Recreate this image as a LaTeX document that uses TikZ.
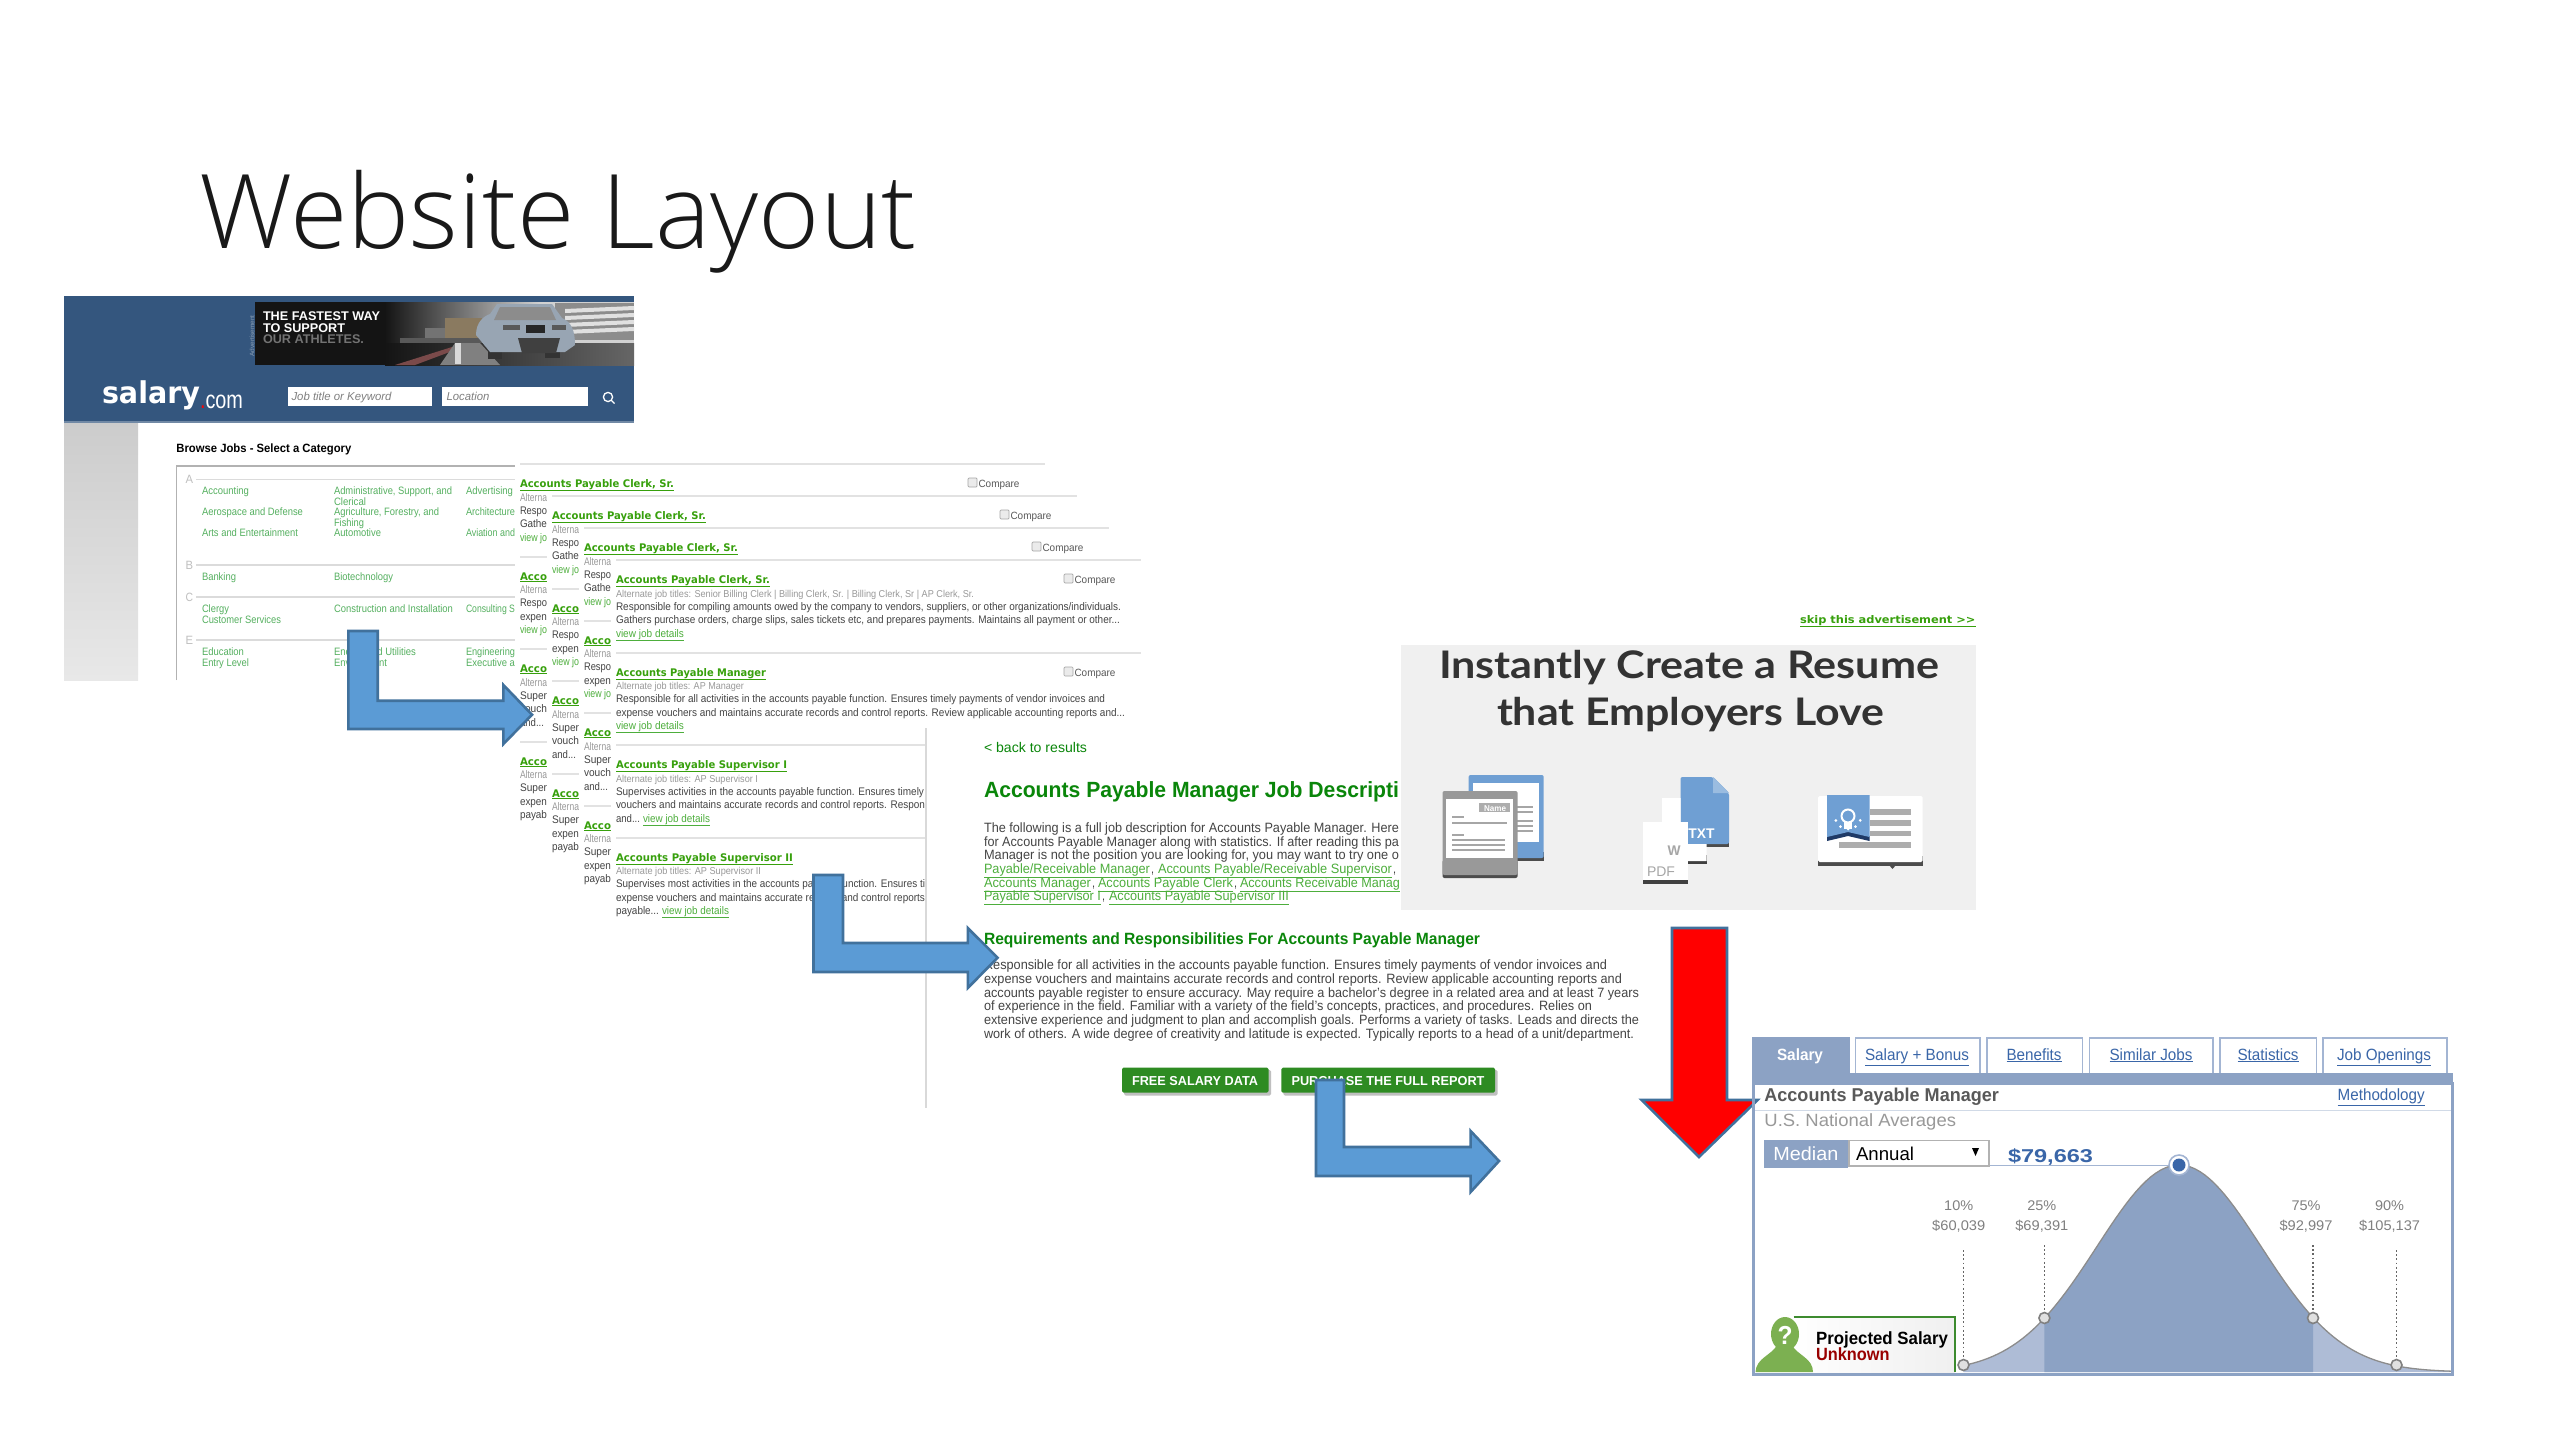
\documentclass[tikz,border=0pt]{standalone}
\usepackage{fontspec}
\usepackage{graphicx}
\setmainfont{Liberation Sans}
\newfontfamily\vfont{DejaVu Sans}
\newfontfamily\lfont{Lato}
\newfontfamily\ofont{Open Sans Light}
\definecolor{hdr}{HTML}{34567E}
\definecolor{catg}{HTML}{55B060}
\definecolor{ttlg}{HTML}{37A00C}
\definecolor{lnkg}{HTML}{4DAE3C}
\definecolor{dkg}{HTML}{0A860A}
\definecolor{txt}{HTML}{444444}
\definecolor{alt}{HTML}{999999}
\definecolor{rl}{HTML}{E2E2E2}
\definecolor{arrF}{HTML}{5B9BD5}
\definecolor{arrS}{HTML}{41719C}
\definecolor{wid}{HTML}{8CA2C4}
\definecolor{widL}{HTML}{AEBCD6}
\definecolor{tabb}{HTML}{A3B5D3}
\definecolor{lnkb}{HTML}{3A66A8}
\definecolor{adblue}{HTML}{6F9FD3}
\definecolor{btn}{HTML}{2E8B22}
\definecolor{pers}{HTML}{7CB051}
\definecolor{pbord}{HTML}{3D8B2F}
\definecolor{bldg}{HTML}{8A7A60}
\definecolor{curb}{HTML}{7A4A4A}
\definecolor{carb}{HTML}{98A5B3}
\definecolor{navy}{HTML}{1F3A66}
\newcounter{tnum}
% [options]{x}{y}{font size}{width}{colour}{text}
\newcommand\tw[7][]{\stepcounter{tnum}\node[lbl,#1,text=#6] (t\arabic{tnum}) at (#2,#3) {\resizebox{#5pt}{\height}{\fontsize{#4}{#4}\selectfont #7}};}
\newcommand\ulk[1]{\underline{#1}}
\newcommand\rct[5]{\fill[#5] (#1,#2) rectangle (#3,#4);}
\tikzset{
 lbl/.style={anchor=base west,inner sep=0pt,outer sep=0pt},
 rulel/.style={draw=rl,line width=1.5pt},
 blockarrow/.style={fill=arrF,draw=arrS,line width=2.6pt,miter limit=10},
 redarrow/.style={fill=red,draw=arrS,line width=2.6pt,miter limit=10},
 dotl/.style={draw=black!60,line width=1.4pt,dash pattern=on 1.8pt off 2.4pt},
 ring/.style={draw=black!50,fill=black!12,line width=1.6pt},
 chk/.style={draw=black!35,fill=black!8,line width=.7pt,rounded corners=1pt},
}
\begin{document}
\begin{tikzpicture}[x=1pt,y=-1pt]
\useasboundingbox (0,0) rectangle (2560,1440);
\fill[white] (0,0) rectangle (2560,1440);
% title
\tw{199}{248}{103}{718}{black!90}{\ofont Website Layout}
% ---- category screenshot
\shade[top color=black!20,bottom color=black!9] (64,422) rectangle (138,680);
\rct{64}{296}{634}{422}{hdr}
\rct{64}{421}{634}{423}{hdr!70}
% banner photo
\rct{255}{302}{634}{365}{black!92}
\shade[left color=black!92,right color=black!18] (385,302) rectangle (540,343);
\rct{540}{302}{634}{343}{black!18}
\shade[left color=black!92,right color=black!60] (385,343) rectangle (634,365);
\fill[black!55] (425,328) rectangle (445,338);
\fill[bldg] (445,318) rectangle (482,340);
\fill[black!65] (400,338) rectangle (482,343);
\fill[curb] (395,365) -- (452,347) -- (455,350) -- (415,365) -- cycle;
\fill[black!50] (455,343) -- (480,343) -- (500,365) -- (440,365) -- cycle;
\fill[white!85!black] (455,343) rectangle (461,364);
\fill[black!45] (555,303) rectangle (634,340);
\foreach \ly in {309,316,323,330}{\fill[black!12] (565,\ly) -- (634,\ly-3) -- (634,\ly+1) -- (565,\ly+4) -- cycle;}
\fill[black!80] (488,345) rectangle (502,359);
\fill[black!80] (545,348) rectangle (560,358);
\fill[carb] (476,335) .. controls (476,322) and (484,316) .. (490,314) -- (497,304) -- (552,304) -- (562,318) .. controls (572,322) and (575,332) .. (575,345) -- (565,352) -- (490,352) -- cycle;
\fill[black!45] (500,307) -- (550,307) -- (556,320) -- (494,320) -- cycle;
\fill[black!85] (526,325) rectangle (545,333);
\fill[black!75] (518,338) -- (560,338) -- (556,353) -- (522,353) -- cycle;
\fill[black!65] (503,325) rectangle (520,330);
\fill[black!65] (552,325) rectangle (566,330);
\node[lbl,anchor=center,rotate=90,text=hdr!60!white,font=\fontsize{6.5}{6.5}\selectfont] (advert) at (252,336) {Advertisement};
\tw{263}{320}{12.6}{117}{white}{\bfseries THE FASTEST WAY}
\tw{263}{332}{12.6}{82}{white}{\bfseries TO SUPPORT}
\tw{263}{343}{12.6}{101}{black!55}{\bfseries OUR ATHLETES.}
\tw{102}{403}{30}{98}{white}{\vfont\bfseries salary}
\tw{200}{408}{25}{43}{white}{\textcolor{red}{.}com}
\rct{287.5}{387}{432}{406}{white}
\rct{442}{387}{588}{406}{white}
\tw{291.5}{400}{11.5}{100}{black!50}{\itshape Job title or Keyword}
\tw{446.5}{400}{11.5}{43}{black!50}{\itshape Location}
\draw[white,line width=1.3pt] (608,397) circle (4.6) (611.5,400.5) -- (614.5,403.5);
\tw{176.4}{452.7}{12}{175}{black}{\bfseries Browse Jobs - Select a Category}
\draw[black!30,line width=1.5pt] (176.5,680) -- (176.5,466) -- (515,466);
\foreach \cl/\ly/\by in {A/479.5/483,B/565/569,C/597/601,E/640/644}{
  \draw[black!14,line width=1.2pt] (196,\ly) -- (515,\ly);
  \tw{185.5}{\by}{12}{7.5}{black!25}{\cl}
}
\foreach \xx/\yy/\wdt/\stx in {
 202/494/47/Accounting, 202/515.5/101/Aerospace and Defense, 202/536/96/Arts and Entertainment,
 202/580/34/Banking, 202/612/27/Clergy, 202/623/79/Customer Services, 202/655/42/Education, 202/666/47/Entry Level,
 334/494/118/{Administrative, Support, and}, 334/505/32/Clerical, 334/515.5/105/{Agriculture, Forestry, and}, 334/526/30/Fishing, 334/536/47/Automotive,
 334/580/59/Biotechnology, 334/612/119/Construction and Installation, 334/655/82/Energy and Utilities, 334/666/53/Environment,
 466/494/47/Advertising, 466/515.5/49/Architecture, 466/536/49/Aviation and, 466/612/49/Consulting S, 466/655/49/Engineering, 466/666/49/Executive a}{
  \tw{\xx}{\yy}{10.7}{\wdt}{catg}{\stx}
}
% ---- the three lists behind, of which a strip shows
\foreach \xo/\T in {520/487,552/519,584/551}{
  \fill[white] (\xo-5,\T-24) rectangle (\xo+530,\T+345);
  \draw[rulel] (\xo,\T-23) -- (\xo+525,\T-23);
  \tw{\xo}{\T}{10.5}{154}{ttlg}{\vfont\bfseries\ulk{Accounts Payable Clerk, Sr.}}
  \draw[chk] (\xo+448,\T-9) rectangle (\xo+457,\T);
  \tw{\xo+458.5}{\T}{10.5}{41}{black!65}{Compare}
  \foreach \dy/\clr/\wrd in {14/alt/Alterna,27/txt/Respo,40/txt/Gathe,54/lnkg/view jo,
     106/alt/Alterna,119/txt/Respo,133/txt/expen,146/lnkg/view jo,
     199/alt/Alterna,212/txt/Super,225/txt/vouch,
     291/alt/Alterna,304/txt/Super,318/txt/expen,331/txt/payab}{
    \tw{\xo}{\T+\dy}{11}{27}{\clr}{\wrd}
  }
  \tw{\xo}{\T+239}{11}{24}{txt}{and...}
  \foreach \dy in {93,185,278}{\tw{\xo}{\T+\dy}{10.5}{27}{ttlg}{\vfont\bfseries\ulk{Acco}}}
  \foreach \dy in {70,162,255}{\draw[rulel] (\xo,\T+\dy) -- (\xo+27,\T+\dy);}
}
% ---- the front list
\def\xo{616}\def\T{583}
\fill[white] (\xo-5,\T-24) rectangle (\xo+530,\T+345);
\draw[rulel] (\xo,\T-23) -- (\xo+525,\T-23);
\tw{\xo}{\T}{10.5}{154}{ttlg}{\vfont\bfseries\ulk{Accounts Payable Clerk, Sr.}}
\draw[chk] (\xo+448,\T-9) rectangle (\xo+457,\T);
\tw{\xo+458.5}{\T}{10.5}{41}{black!65}{Compare}
\tw{\xo}{\T+14}{10}{358}{alt}{Alternate job titles: Senior Billing Clerk | Billing Clerk, Sr. | Billing Clerk, Sr | AP Clerk, Sr.}
\tw{\xo}{\T+27}{11}{505}{txt}{Responsible for compiling amounts owed by the company to vendors, suppliers, or other organizations/individuals.}
\tw{\xo}{\T+40}{11}{504}{txt}{Gathers purchase orders, charge slips, sales tickets etc, and prepares payments. Maintains all payment or other...}
\tw{\xo}{\T+54}{11}{68}{lnkg}{\ulk{view job details}}
\draw[rulel] (\xo,\T+70) -- (\xo+525,\T+70);
\tw{\xo}{\T+93}{10.5}{150}{ttlg}{\vfont\bfseries\ulk{Accounts Payable Manager}}
\draw[chk] (\xo+448,\T+84) rectangle (\xo+457,\T+93);
\tw{\xo+458.5}{\T+93}{10.5}{41}{black!65}{Compare}
\tw{\xo}{\T+106}{10}{128}{alt}{Alternate job titles: AP Manager}
\tw{\xo}{\T+119}{11}{489}{txt}{Responsible for all activities in the accounts payable function. Ensures timely payments of vendor invoices and}
\tw{\xo}{\T+133}{11}{509}{txt}{expense vouchers and maintains accurate records and control reports. Review applicable accounting reports and...}
\tw{\xo}{\T+146}{11}{68}{lnkg}{\ulk{view job details}}
\draw[rulel] (\xo,\T+162) -- (\xo+525,\T+162);
\tw{\xo}{\T+185}{10.5}{171}{ttlg}{\vfont\bfseries\ulk{Accounts Payable Supervisor I}}
\tw{\xo}{\T+199}{10}{142}{alt}{Alternate job titles: AP Supervisor I}
\tw{\xo}{\T+212}{11}{308}{txt}{Supervises activities in the accounts payable function. Ensures timely}
\tw{\xo}{\T+225}{11}{309}{txt}{vouchers and maintains accurate records and control reports. Respon}
\tw{\xo}{\T+239}{11}{24}{txt}{and...}
\tw{\xo+27}{\T+239}{11}{67}{lnkg}{\ulk{view job details}}
\draw[rulel] (\xo,\T+255) -- (\xo+525,\T+255);
\tw{\xo}{\T+278}{10.5}{177}{ttlg}{\vfont\bfseries\ulk{Accounts Payable Supervisor II}}
\tw{\xo}{\T+291}{10}{145}{alt}{Alternate job titles: AP Supervisor II}
\tw{\xo}{\T+304}{11}{309}{txt}{Supervises most activities in the accounts payable function. Ensures ti}
\tw{\xo}{\T+318}{11}{309}{txt}{expense vouchers and maintains accurate records and control reports}
\tw{\xo}{\T+331}{11}{43}{txt}{payable...}
\tw{\xo+46}{\T+331}{11}{67}{lnkg}{\ulk{view job details}}
% ---- job description
\fill[white] (927,728) rectangle (1660,1110);
\draw[black!15,line width=1.5pt] (926,728) -- (926,1108);
\tw{984}{752}{14}{103}{dkg}{< back to results}
\tw{984}{797}{22}{415}{dkg}{\bfseries Accounts Payable Manager Job Descripti}
\tw{984}{832}{13.5}{415}{txt}{The following is a full job description for Accounts Payable Manager. Here}
\tw{984}{846}{13.5}{415}{txt}{for Accounts Payable Manager along with statistics. If after reading this pa}
\tw{984}{859}{13.5}{415}{txt}{Manager is not the position you are looking for, you may want to try one o}
\tw{984}{873}{13.5}{166}{lnkg}{\ulk{Payable/Receivable Manager}}
\tw{1151}{873}{13.5}{3}{txt}{,}
\tw{1158}{873}{13.5}{234}{lnkg}{\ulk{Accounts Payable/Receivable Supervisor}}
\tw{1393}{873}{13.5}{3}{txt}{,}
\tw{984}{887}{13.5}{107}{lnkg}{\ulk{Accounts Manager}}
\tw{1092}{887}{13.5}{3}{txt}{,}
\tw{1098}{887}{13.5}{135}{lnkg}{\ulk{Accounts Payable Clerk}}
\tw{1234}{887}{13.5}{3}{txt}{,}
\tw{1240}{887}{13.5}{160}{lnkg}{\ulk{Accounts Receivable Manag}}
\tw{984}{900}{13.5}{117}{lnkg}{\ulk{Payable Supervisor I}}
\tw{1102}{900}{13.5}{3}{txt}{,}
\tw{1109}{900}{13.5}{180}{lnkg}{\ulk{Accounts Payable Supervisor III}}
\tw{984}{944}{16.3}{496}{dkg}{\bfseries Requirements and Responsibilities For Accounts Payable Manager}
\tw{984}{969}{13.5}{623}{txt}{Responsible for all activities in the accounts payable function. Ensures timely payments of vendor invoices and}
\tw{984}{983}{13.5}{638}{txt}{expense vouchers and maintains accurate records and control reports. Review applicable accounting reports and}
\tw{984}{997}{13.5}{655}{txt}{accounts payable register to ensure accuracy. May require a bachelor's degree in a related area and at least 7 years}
\tw{984}{1010}{13.5}{608}{txt}{of experience in the field. Familiar with a variety of the field's concepts, practices, and procedures. Relies on}
\tw{984}{1024}{13.5}{655}{txt}{extensive experience and judgment to plan and accomplish goals. Performs a variety of tasks. Leads and directs the}
\tw{984}{1038}{13.5}{650}{txt}{work of others. A wide degree of creativity and latitude is expected. Typically reports to a head of a unit/department.}
\fill[black!25,rounded corners=1.5pt] (1124,1070) rectangle (1271,1095.5);
\fill[btn,rounded corners=1.5pt] (1122,1067.7) rectangle (1268.5,1092.7);
\tw{1132}{1085}{13}{126}{white}{\bfseries FREE SALARY DATA}
\fill[black!25,rounded corners=1.5pt] (1283.4,1070) rectangle (1497.5,1095.5);
\fill[btn,rounded corners=1.5pt] (1281.4,1067.7) rectangle (1495,1092.7);
\tw{1291.5}{1085}{13}{193}{white}{\bfseries PURCHASE THE FULL REPORT}
% ---- advertisement
\tw{1800}{623}{10.5}{175.5}{ttlg}{\vfont\bfseries\ulk{skip this advertisement >>}}
\rct{1401}{645}{1976}{910}{black!6}
\tw{1439}{678}{38}{500}{black!80}{\lfont\bfseries Instantly Create a Resume}
\tw{1497}{725}{38}{387}{black!80}{\lfont\bfseries that Employers Love}
% icon 1
\fill[black!70] (1472,852) rectangle (1543.7,861);
\fill[adblue,rounded corners=2pt] (1468.6,775) rectangle (1543.7,858);
\rct{1473}{783}{1539}{842}{white}
\foreach \ly in {806,811,820,825,830}{\rct{1517}{\ly}{1533}{\ly+2}{black!35}}
\fill[black!70,rounded corners=2pt] (1442.5,860) rectangle (1517.6,878);
\fill[black!40,rounded corners=2pt] (1442.5,791) rectangle (1517.6,875);
\rct{1446}{799}{1513}{858}{white}
\rct{1479}{803}{1510}{812}{black!32}
\tw{1484}{811}{8.5}{22}{white}{\bfseries Name}
\foreach \xa/\ly in {1464/816,1507/822,1464/834,1505/839,1505/844,1505/849}{\rct{1451.5}{\ly}{\xa}{\ly+2}{black!35}}
% icon 2
\fill[black!70] (1684,838) rectangle (1729,847);
\fill[adblue,rounded corners=2pt] (1680.5,777) -- (1713,777) -- (1729,793) -- (1729,844) -- (1680.5,844) -- cycle;
\fill[adblue!70!white] (1713,777) -- (1729,793) -- (1713,793) -- cycle;
\fill[black!75] (1664,855) rectangle (1706.6,864);
\fill[white] (1662,798) -- (1680.5,798) -- (1680.5,844) -- (1706.6,844) -- (1706.6,861) -- (1662,861) -- cycle;
\tw{1684.5}{838}{14}{30}{white}{\bfseries .TXT}
\fill[black!75] (1642.5,874) rectangle (1687.6,884);
\rct{1642.5}{822}{1687.6}{880}{white}
\tw{1667.5}{855}{14}{13}{black!35}{\bfseries W}
\tw{1647}{876}{14}{28}{black!35}{PDF}
% icon 3
\fill[black!70] (1818,856) rectangle (1922.5,866);
\fill[black!70] (1889,865) -- (1896,865) -- (1892.5,869) -- cycle;
\fill[white,rounded corners=1.5pt] (1818,796) rectangle (1922.5,862);
\fill[navy] (1827,836) -- (1848,831) -- (1869.5,836) -- (1869.5,841) -- (1848,836) -- (1827,841) -- cycle;
\fill[adblue] (1827,795) -- (1869.5,795) -- (1869.5,837) -- (1848,832) -- (1827,837) -- cycle;
\rct{1869.5}{809}{1911}{815}{black!32}
\rct{1869.5}{820}{1911}{826}{black!32}
\rct{1869.5}{831}{1911}{836}{black!32}
\rct{1839}{842}{1911}{848}{black!32}
\draw[white,line width=2pt] (1848,816) circle (6.5);
\fill[white] (1844,822) rectangle (1852,829);
\foreach \ang in {-160,-125,-90,-55,-20}{\fill[white] (1848,816) ++(\ang:-13) circle (1.5);}
% ---- block arrows
\draw[blockarrow] (348.4,631) -- (377.7,631) -- (377.7,700.7) -- (503.4,700.7) -- (503.4,685) -- (532,714.7) -- (503.4,744) -- (503.4,729) -- (348.4,729) -- cycle;
\draw[blockarrow] (813.5,875) -- (843,875) -- (843,943) -- (967.8,943) -- (967.8,928) -- (997.6,957.7) -- (967.8,988) -- (967.8,972) -- (813.5,972) -- cycle;
\draw[blockarrow] (1316,1080) -- (1344,1080) -- (1344,1147) -- (1470.6,1147) -- (1470.6,1131) -- (1499,1161) -- (1470.6,1192) -- (1470.6,1176) -- (1316,1176) -- cycle;
\draw[redarrow] (1672,928) -- (1727,928) -- (1727,1100) -- (1757.5,1100) -- (1699,1157) -- (1641.6,1100) -- (1672,1100) -- cycle;
% ---- salary widget
\rct{1752}{1037}{1850}{1083}{wid}
\foreach \xa/\xb in {1855.5/1980,1987/2082.5,2089.5/2213,2220/2316.5,2323/2447}{
  \draw[tabb,fill=white,line width=1.5pt] (\xa,1073) -- (\xa,1038) -- (\xb,1038) -- (\xb,1073);
}
\rct{1752}{1073}{2452.6}{1084}{wid}
\tw[anchor=base]{1800}{1060}{16.3}{46}{white}{\bfseries Salary}
\tw[anchor=base]{1917}{1060}{16.3}{104}{lnkb}{\ulk{Salary + Bonus}}
\tw[anchor=base]{2034}{1060}{16.3}{55}{lnkb}{\ulk{Benefits}}
\tw[anchor=base]{2151}{1060}{16.3}{83}{lnkb}{\ulk{Similar Jobs}}
\tw[anchor=base]{2268}{1060}{16.3}{61}{lnkb}{\ulk{Statistics}}
\tw[anchor=base]{2384}{1060}{16.3}{94}{lnkb}{\ulk{Job Openings}}
\tw{1764.4}{1101}{18.6}{234.5}{black!65}{\bfseries Accounts Payable Manager}
\tw{2337.7}{1100}{16.3}{87}{lnkb}{\ulk{Methodology}}
\draw[wid!40!white,line width=1.5pt] (1753,1110.7) -- (2452,1110.7);
\tw{1764.4}{1126}{17.7}{191.6}{black!40}{U.S. National Averages}
\draw[tabb,line width=1.5pt] (1989,1165.7) -- (2179,1165.7);
\rct{1764.4}{1140}{1848}{1168}{wid}
\tw{1773.4}{1160.7}{19}{65}{white}{Median}
\draw[black!30,fill=white,line width=1.2pt] (1849,1140.7) rectangle (1989,1166);
\tw{1856}{1160}{18.6}{58}{black}{Annual}
\fill[black] (1972,1148) -- (1979,1148) -- (1975.5,1156) -- cycle;
\tw{2008}{1162}{18.6}{85}{lnkb}{\bfseries \$79,663}
\fill[widL] plot[domain=1963.5:2450,samples=70] (\x,{1372-207*exp(-0.5*((\x-2179)/82)^2)}) -- (2450,1372) -- (1963.5,1372) -- cycle;
\fill[wid] plot[domain=2044.4:2313,samples=60] (\x,{1372-207*exp(-0.5*((\x-2179)/82)^2)}) -- (2313,1372) -- (2044.4,1372) -- cycle;
\draw[black!45,line width=1.3pt] plot[domain=1963.5:2451,samples=100] (\x,{1372-207*exp(-0.5*((\x-2179)/82)^2)});
\tw[anchor=base]{1958.7}{1210}{14}{29}{black!50}{10\%}
\tw[anchor=base]{2041.8}{1210}{14}{29}{black!50}{25\%}
\tw[anchor=base]{2306}{1210}{14}{29}{black!50}{75\%}
\tw[anchor=base]{2389.6}{1210}{14}{29}{black!50}{90\%}
\tw[anchor=base]{1958.7}{1230.7}{14}{53}{black!50}{\$60,039}
\tw[anchor=base]{2041.8}{1230.7}{14}{53}{black!50}{\$69,391}
\tw[anchor=base]{2306}{1230.7}{14}{53}{black!50}{\$92,997}
\tw[anchor=base]{2389.6}{1230.7}{14}{61}{black!50}{\$105,137}
\draw[dotl] (1963.5,1250) -- (1963.5,1365);
\draw[dotl] (2044.4,1245) -- (2044.4,1318);
\draw[dotl] (2313,1245) -- (2313,1318);
\draw[dotl] (2396.5,1250) -- (2396.5,1365);
\foreach \mx/\my in {1963.5/1365,2044.4/1318,2313/1318,2396.5/1365}{\draw[ring] (\mx,\my) circle (5.5);}
\draw[tabb,fill=white,line width=1.6pt] (2179,1165) circle (10);
\fill[lnkb] (2179,1165) circle (6.5);
% projected salary badge
\shade[left color=white,right color=black!6] (1790,1317) rectangle (1955,1372);
\draw[pbord,line width=1.6pt] (1793.5,1317) -- (1955,1317) -- (1955,1372);
\fill[pers] (1755.5,1372) .. controls (1756,1358) and (1772,1355) .. (1777,1345) -- (1792,1345) .. controls (1797,1355) and (1813,1358) .. (1813,1372) -- cycle;
\fill[pers] (1785,1334) ellipse (14 and 17);
\tw[anchor=base]{1785}{1344}{26}{15}{white}{\bfseries ?}
\tw{1816}{1344}{17.7}{132}{black}{\bfseries Projected Salary}
\tw{1816}{1360.7}{17.7}{73.6}{red!60!black}{\bfseries Unknown}
\draw[wid,line width=3pt] (1753,1083) rectangle (2452,1374);
\end{tikzpicture}
\end{document}
